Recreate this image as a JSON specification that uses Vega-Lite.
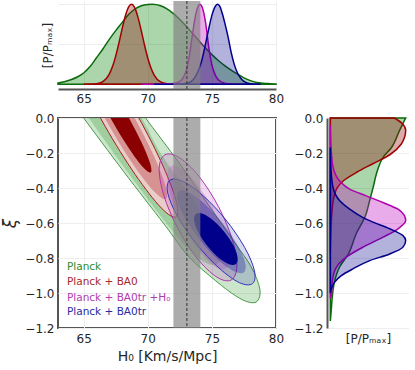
{
"$schema": "https://vega.github.io/schema/vega-lite/v6.json",
"padding": {"left": 0, "top": 0, "right": 0, "bottom": 0},
"config": {
  "view": {"stroke": null},
  "font": "DejaVu Sans",
  "axis": {"labelFont": "DejaVu Sans", "titleFont": "DejaVu Sans", "labelColor": "#262626", "titleColor": "#262626", "gridColor": "#eeeeee", "ticks": false, "labelFontSize": 12, "titleFontWeight": "normal", "labelOverlap": false, "minExtent": 0}
},
"datasets": {
  "g2": [{"i":1,"h":63.85,"xi":0.116},{"i":2,"h":65.0,"xi":0},{"i":3,"h":68.13,"xi":-0.307},{"i":4,"h":71.26,"xi":-0.605},{"i":5,"h":73.22,"xi":-0.794},{"i":6,"h":75.31,"xi":-0.931},{"i":7,"h":76.87,"xi":-1.017},{"i":8,"h":77.91,"xi":-1.053},{"i":9,"h":78.56,"xi":-1.045},{"i":10,"h":78.74,"xi":-0.977},{"i":11,"h":78.07,"xi":-0.851},{"i":12,"h":76.74,"xi":-0.708},{"i":13,"h":74.78,"xi":-0.502},{"i":14,"h":72.44,"xi":-0.256},{"i":15,"h":69.83,"xi":0},{"i":16,"h":68.73,"xi":0.116}],
  "g1": [{"i":1,"h":64.22,"xi":0.116},{"i":2,"h":65.39,"xi":0},{"i":3,"h":68.52,"xi":-0.319},{"i":4,"h":71.65,"xi":-0.622},{"i":5,"h":73.61,"xi":-0.782},{"i":6,"h":75.02,"xi":-0.839},{"i":7,"h":75.72,"xi":-0.794},{"i":8,"h":75.18,"xi":-0.662},{"i":9,"h":73.22,"xi":-0.433},{"i":10,"h":71.03,"xi":-0.204},{"i":11,"h":69.54,"xi":0},{"i":12,"h":68.52,"xi":0.116}],
  "r2": [{"i":0,"h":72.20,"xi":-0.565},{"i":1,"h":71.04,"xi":-0.513},{"i":2,"h":69.02,"xi":-0.323},{"i":3,"h":66.67,"xi":-0.047},{"i":4,"h":64.63,"xi":0.242},{"i":5,"h":63.44,"xi":0.465},{"i":6,"h":63.42,"xi":0.565},{"i":7,"h":64.58,"xi":0.513},{"i":8,"h":66.60,"xi":0.323},{"i":9,"h":68.95,"xi":0.047},{"i":10,"h":70.99,"xi":-0.242},{"i":11,"h":72.18,"xi":-0.465}],
  "rm": [{"i":0,"h":71.40,"xi":-0.463},{"i":1,"h":70.48,"xi":-0.419},{"i":2,"h":68.84,"xi":-0.263},{"i":3,"h":66.93,"xi":-0.037},{"i":4,"h":65.25,"xi":0.200},{"i":5,"h":64.26,"xi":0.383},{"i":6,"h":64.22,"xi":0.463},{"i":7,"h":65.14,"xi":0.419},{"i":8,"h":66.78,"xi":0.263},{"i":9,"h":68.70,"xi":0.037},{"i":10,"h":70.37,"xi":-0.200},{"i":11,"h":71.36,"xi":-0.383}],
  "r1": [{"i":0,"h":70.23,"xi":-0.311},{"i":1,"h":69.63,"xi":-0.281},{"i":2,"h":68.55,"xi":-0.175},{"i":3,"h":67.27,"xi":-0.023},{"i":4,"h":66.13,"xi":0.136},{"i":5,"h":65.44,"xi":0.258},{"i":6,"h":65.39,"xi":0.311},{"i":7,"h":65.99,"xi":0.281},{"i":8,"h":67.07,"xi":0.175},{"i":9,"h":68.36,"xi":0.023},{"i":10,"h":69.49,"xi":-0.136},{"i":11,"h":70.18,"xi":-0.258}],
  "p2": [{"i":0,"h":76.50,"xi":-0.926},{"i":1,"h":75.36,"xi":-0.908},{"i":2,"h":73.83,"xi":-0.800},{"i":3,"h":72.33,"xi":-0.629},{"i":4,"h":71.25,"xi":-0.442},{"i":5,"h":70.89,"xi":-0.288},{"i":6,"h":71.34,"xi":-0.210},{"i":7,"h":72.48,"xi":-0.227},{"i":8,"h":74.01,"xi":-0.335},{"i":9,"h":75.51,"xi":-0.506},{"i":10,"h":76.59,"xi":-0.694},{"i":11,"h":76.95,"xi":-0.847}],
  "p1": [{"i":0,"h":76.04,"xi":-0.861},{"i":1,"h":75.16,"xi":-0.845},{"i":2,"h":73.96,"xi":-0.754},{"i":3,"h":72.74,"xi":-0.613},{"i":4,"h":71.84,"xi":-0.460},{"i":5,"h":71.50,"xi":-0.336},{"i":6,"h":71.81,"xi":-0.274},{"i":7,"h":72.68,"xi":-0.291},{"i":8,"h":73.88,"xi":-0.382},{"i":9,"h":75.10,"xi":-0.522},{"i":10,"h":76.00,"xi":-0.675},{"i":11,"h":76.34,"xi":-0.800}],
  "b2": [{"i":0,"h":78.17,"xi":-0.946},{"i":1,"h":77.15,"xi":-0.941},{"i":2,"h":75.55,"xi":-0.857},{"i":3,"h":73.78,"xi":-0.719},{"i":4,"h":72.32,"xi":-0.562},{"i":5,"h":71.56,"xi":-0.430},{"i":6,"h":71.71,"xi":-0.356},{"i":7,"h":72.73,"xi":-0.362},{"i":8,"h":74.33,"xi":-0.445},{"i":9,"h":76.10,"xi":-0.583},{"i":10,"h":77.56,"xi":-0.740},{"i":11,"h":78.32,"xi":-0.873}],
  "bm": [{"i":0,"h":77.50,"xi":-0.882},{"i":1,"h":76.73,"xi":-0.876},{"i":2,"h":75.49,"xi":-0.810},{"i":3,"h":74.11,"xi":-0.700},{"i":4,"h":72.95,"xi":-0.577},{"i":5,"h":72.33,"xi":-0.474},{"i":6,"h":72.42,"xi":-0.418},{"i":7,"h":73.19,"xi":-0.424},{"i":8,"h":74.43,"xi":-0.490},{"i":9,"h":75.82,"xi":-0.600},{"i":10,"h":76.97,"xi":-0.723},{"i":11,"h":77.59,"xi":-0.826}],
  "b1": [{"i":0,"h":76.88,"xi":-0.834},{"i":1,"h":76.33,"xi":-0.835},{"i":2,"h":75.51,"xi":-0.797},{"i":3,"h":74.64,"xi":-0.730},{"i":4,"h":73.95,"xi":-0.654},{"i":5,"h":73.62,"xi":-0.587},{"i":6,"h":73.75,"xi":-0.548},{"i":7,"h":74.29,"xi":-0.547},{"i":8,"h":75.11,"xi":-0.586},{"i":9,"h":75.98,"xi":-0.652},{"i":10,"h":76.68,"xi":-0.729},{"i":11,"h":77.00,"xi":-0.795}],
  "tg": [{"h":63,"p":0.015},{"h":63.5,"p":0.03},{"h":64,"p":0.055},{"h":64.5,"p":0.09},{"h":65,"p":0.14},{"h":65.5,"p":0.22},{"h":66,"p":0.33},{"h":66.5,"p":0.44},{"h":67,"p":0.56},{"h":67.5,"p":0.67},{"h":68,"p":0.77},{"h":68.5,"p":0.87},{"h":69,"p":0.94},{"h":69.5,"p":0.98},{"h":70,"p":0.997},{"h":70.35,"p":1},{"h":71,"p":0.981},{"h":71.5,"p":0.941},{"h":72,"p":0.882},{"h":72.5,"p":0.809},{"h":73,"p":0.724},{"h":73.5,"p":0.634},{"h":74,"p":0.542},{"h":74.5,"p":0.453},{"h":75,"p":0.37},{"h":75.5,"p":0.296},{"h":76,"p":0.231},{"h":76.5,"p":0.176},{"h":77,"p":0.125},{"h":77.5,"p":0.08},{"h":78,"p":0.045},{"h":78.5,"p":0.022},{"h":79,"p":0.012},{"h":79.5,"p":0.007},{"h":80,"p":0.004}],
  "tr": [{"h":65,"p":0},{"h":65.5,"p":0.001},{"h":66,"p":0.006},{"h":66.5,"p":0.032},{"h":67,"p":0.126},{"h":67.25,"p":0.22},{"h":67.5,"p":0.351},{"h":67.75,"p":0.514},{"h":68,"p":0.692},{"h":68.25,"p":0.853},{"h":68.5,"p":0.964},{"h":68.73,"p":1},{"h":69,"p":0.951},{"h":69.25,"p":0.829},{"h":69.5,"p":0.663},{"h":69.75,"p":0.487},{"h":70,"p":0.328},{"h":70.25,"p":0.202},{"h":70.5,"p":0.114},{"h":71,"p":0.028},{"h":71.5,"p":0.005},{"h":72,"p":0.001},{"h":72.7,"p":0}],
  "tp": [{"h":69.5,"p":0},{"h":70.5,"p":0},{"h":71.5,"p":0.002},{"h":72,"p":0.008},{"h":72.5,"p":0.035},{"h":72.75,"p":0.08},{"h":73,"p":0.17},{"h":73.25,"p":0.36},{"h":73.5,"p":0.64},{"h":73.75,"p":0.88},{"h":74.06,"p":1},{"h":74.25,"p":0.96},{"h":74.5,"p":0.78},{"h":74.75,"p":0.47},{"h":75,"p":0.24},{"h":75.25,"p":0.12},{"h":75.5,"p":0.055},{"h":76,"p":0.012},{"h":76.5,"p":0.002},{"h":77,"p":0},{"h":77.6,"p":0}],
  "tb": [{"h":70.5,"p":0},{"h":72,"p":0},{"h":72.5,"p":0.002},{"h":73,"p":0.01},{"h":73.25,"p":0.022},{"h":73.5,"p":0.05},{"h":73.75,"p":0.105},{"h":74,"p":0.19},{"h":74.25,"p":0.32},{"h":74.5,"p":0.5},{"h":74.75,"p":0.69},{"h":75,"p":0.86},{"h":75.25,"p":0.97},{"h":75.43,"p":1},{"h":75.6,"p":0.98},{"h":75.8,"p":0.89},{"h":76,"p":0.77},{"h":76.25,"p":0.6},{"h":76.5,"p":0.4},{"h":76.75,"p":0.245},{"h":77,"p":0.14},{"h":77.25,"p":0.075},{"h":77.5,"p":0.035},{"h":78,"p":0.005},{"h":78.8,"p":0}],
  "sg": [{"xi":0,"p":1.0},{"xi":-0.07,"p":0.92},{"xi":-0.17,"p":0.81},{"xi":-0.225,"p":0.7},{"xi":-0.29,"p":0.633},{"xi":-0.4,"p":0.566},{"xi":-0.47,"p":0.523},{"xi":-0.56,"p":0.465},{"xi":-0.66,"p":0.345},{"xi":-0.78,"p":0.235},{"xi":-0.85,"p":0.125},{"xi":-0.93,"p":0.058},{"xi":-1.02,"p":0.027},{"xi":-1.1,"p":0.012},{"xi":-1.16,"p":0}],
  "sr": [{"xi":0,"p":0.85},{"xi":-0.03,"p":0.95},{"xi":-0.07,"p":1.0},{"xi":-0.11,"p":0.985},{"xi":-0.15,"p":0.94},{"xi":-0.21,"p":0.79},{"xi":-0.26,"p":0.57},{"xi":-0.31,"p":0.35},{"xi":-0.36,"p":0.17},{"xi":-0.4,"p":0.09},{"xi":-0.435,"p":0.058},{"xi":-0.48,"p":0.035},{"xi":-0.53,"p":0.023},{"xi":-0.6,"p":0.012},{"xi":-0.7,"p":0.004},{"xi":-0.77,"p":0}],
  "sp": [{"xi":-0.04,"p":0},{"xi":-0.1,"p":0.003},{"xi":-0.2,"p":0.015},{"xi":-0.28,"p":0.036},{"xi":-0.36,"p":0.125},{"xi":-0.406,"p":0.257},{"xi":-0.445,"p":0.477},{"xi":-0.483,"p":0.699},{"xi":-0.521,"p":0.898},{"xi":-0.555,"p":0.98},{"xi":-0.586,"p":1.0},{"xi":-0.633,"p":0.898},{"xi":-0.681,"p":0.699},{"xi":-0.738,"p":0.434},{"xi":-0.795,"p":0.212},{"xi":-0.853,"p":0.08},{"xi":-0.929,"p":0.027},{"xi":-1.015,"p":0.013},{"xi":-1.03,"p":0}],
  "sb": [{"xi":-0.168,"p":0},{"xi":-0.3,"p":0.01},{"xi":-0.397,"p":0.036},{"xi":-0.473,"p":0.125},{"xi":-0.521,"p":0.257},{"xi":-0.569,"p":0.434},{"xi":-0.595,"p":0.566},{"xi":-0.633,"p":0.788},{"xi":-0.672,"p":0.964},{"xi":-0.7,"p":1.0},{"xi":-0.738,"p":0.964},{"xi":-0.777,"p":0.788},{"xi":-0.815,"p":0.523},{"xi":-0.862,"p":0.301},{"xi":-0.901,"p":0.146},{"xi":-0.938,"p":0.058},{"xi":-0.977,"p":0.013},{"xi":-1.0,"p":0}],
  "band": [{"h":72.0,"h2":74.1}],
  "riess": [{"h":73.05}],
  "leg": [{"i":1,"label":"Planck","h":63.7,"xi":-0.853},{"i":2,"label":"Planck + BA0","h":63.7,"xi":-0.938},{"i":3,"label":"Planck + BA0tr +H₀","h":63.7,"xi":-1.028},{"i":4,"label":"Planck + BA0tr","h":63.7,"xi":-1.11}]
},
"columns": 2,
"align": "each",
"spacing": {"row": 7, "column": 8},
"concat": [
  {
    "width": 218, "height": 88,
    "layer": [
      {
        "encoding": {
          "x": {"field": "h", "type": "quantitative", "scale": {"domain": [63, 80], "nice": false, "zero": false}, "axis": {"title": null, "values": [65, 70, 75, 80], "labelFlush": false, "domainColor": "#555555", "domainWidth": 2, "grid": true, "labelPadding": 4}},
          "y": {"field": "p", "type": "quantitative", "scale": {"domain": [-0.06, 1.04], "nice": false, "zero": false}, "axis": {"title": "[P/Pₘₐₓ]", "labels": false, "domain": false, "values": [0, 0.5, 1], "grid": true, "titlePadding": 4, "titleFontSize": 12}}
        },
        "layer": [
          {"data": {"name": "tg"}, "mark": {"type": "area", "interpolate": "monotone", "fill": "#008000", "fillOpacity": 0.33, "stroke": "#0b6b0b", "strokeWidth": 1.5}},
          {"data": {"name": "tr"}, "mark": {"type": "area", "interpolate": "monotone", "fill": "#8b0000", "fillOpacity": 0.33, "stroke": "#a00000", "strokeWidth": 1.5}},
          {"data": {"name": "tp"}, "mark": {"type": "area", "interpolate": "monotone", "fill": "#bf00bf", "fillOpacity": 0.33, "stroke": "#b000b0", "strokeWidth": 1.5}},
          {"data": {"name": "tb"}, "mark": {"type": "area", "interpolate": "monotone", "fill": "#00008b", "fillOpacity": 0.3, "stroke": "#00008b", "strokeWidth": 1.5}}
        ]
      },
      {"data": {"name": "band"}, "mark": {"type": "rect", "color": "#808080", "opacity": 0.65}, "encoding": {"x": {"field": "h", "type": "quantitative"}, "x2": {"field": "h2"}}},
      {"data": {"name": "riess"}, "mark": {"type": "rule", "color": "#333333", "strokeDash": [3, 2], "strokeWidth": 1}, "encoding": {"x": {"field": "h", "type": "quantitative"}}}
    ]
  },
  {"width": 82, "height": 88, "data": {"values": []}, "mark": {"type": "point", "opacity": 0}, "encoding": {}},
  {
    "width": 218, "height": 210,
    "view": {"stroke": "#555555", "strokeWidth": 2},
    "layer": [
      {
        "encoding": {
          "x": {"field": "h", "type": "quantitative", "scale": {"domain": [63, 80], "nice": false, "zero": false}, "axis": {"title": "H₀ [Km/s/Mpc]", "values": [65, 70, 75, 80], "labelFlush": false, "labelOverlap": false, "domain": false, "grid": true, "labelPadding": 5, "titlePadding": 5, "titleFontSize": 14}},
          "y": {"field": "xi", "type": "quantitative", "scale": {"domain": [-1.2, 0], "nice": false, "zero": false}, "axis": {"title": "ξ", "values": [0, -0.2, -0.4, -0.6, -0.8, -1.0, -1.2], "format": ".1f", "labelOverlap": false, "labelBound": false, "domain": false, "grid": true, "labelPadding": 4, "titlePadding": 5, "titleFontSize": 17, "titleFontStyle": "italic"}},
          "order": {"field": "i", "type": "quantitative"}
        },
        "layer": [
          {"data": {"name": "g2"}, "mark": {"type": "line", "interpolate": "cardinal-closed", "clip": true, "fill": "#008000", "fillOpacity": 0.2, "stroke": "#4a9a4a", "strokeWidth": 1}},
          {"data": {"name": "g1"}, "mark": {"type": "line", "interpolate": "cardinal-closed", "clip": true, "fill": "#008000", "fillOpacity": 0.22, "strokeWidth": 0}},
          {"data": {"name": "r2"}, "mark": {"type": "line", "interpolate": "cardinal-closed", "clip": true, "fill": "#f2cccc", "fillOpacity": 0.9, "stroke": "#a02020", "strokeWidth": 1}},
          {"data": {"name": "rm"}, "mark": {"type": "line", "interpolate": "cardinal-closed", "clip": true, "fill": "#d68f8f", "fillOpacity": 0.95, "strokeWidth": 0}},
          {"data": {"name": "r1"}, "mark": {"type": "line", "interpolate": "cardinal-closed", "clip": true, "fill": "#8b0000", "fillOpacity": 1, "strokeWidth": 0}},
          {"data": {"name": "p2"}, "mark": {"type": "line", "interpolate": "cardinal-closed", "clip": true, "fill": "#c040c0", "fillOpacity": 0.2, "stroke": "#b030b0", "strokeWidth": 1}},
          {"data": {"name": "p1"}, "mark": {"type": "line", "interpolate": "cardinal-closed", "clip": true, "fill": "#c040c0", "fillOpacity": 0.25, "strokeWidth": 0}},
          {"data": {"name": "b2"}, "mark": {"type": "line", "interpolate": "cardinal-closed", "clip": true, "fill": "#2020a0", "fillOpacity": 0.18, "stroke": "#3030b8", "strokeWidth": 1}},
          {"data": {"name": "bm"}, "mark": {"type": "line", "interpolate": "cardinal-closed", "clip": true, "fill": "#2020a0", "fillOpacity": 0.35, "strokeWidth": 0}},
          {"data": {"name": "b1"}, "mark": {"type": "line", "interpolate": "cardinal-closed", "clip": true, "fill": "#00008b", "fillOpacity": 1, "strokeWidth": 0}},
          {"data": {"name": "leg"}, "mark": {"type": "text", "align": "left", "baseline": "middle", "fontSize": 10.5, "font": "DejaVu Sans"}, "encoding": {"text": {"field": "label"}, "color": {"field": "label", "type": "nominal", "scale": {"domain": ["Planck", "Planck + BA0", "Planck + BA0tr +H₀", "Planck + BA0tr"], "range": ["#2e8b2e", "#a52a2a", "#b03cb0", "#2a2aa0"]}, "legend": null}}}
        ]
      },
      {"data": {"name": "band"}, "mark": {"type": "rect", "color": "#808080", "opacity": 0.65}, "encoding": {"x": {"field": "h", "type": "quantitative"}, "x2": {"field": "h2"}}},
      {"data": {"name": "riess"}, "mark": {"type": "rule", "color": "#333333", "strokeDash": [3, 2], "strokeWidth": 1}, "encoding": {"x": {"field": "h", "type": "quantitative"}}}
    ]
  },
  {
    "width": 82, "height": 210,
    "encoding": {
      "x": {"field": "p", "type": "quantitative", "scale": {"domain": [-0.044, 1.044], "nice": false, "zero": false}, "axis": {"title": "[P/Pₘₐₓ]", "labels": false, "domain": false, "grid": false, "titlePadding": 5, "titleFontSize": 12}},
      "y": {"field": "xi", "type": "quantitative", "scale": {"domain": [-1.2, 0], "nice": false, "zero": false}, "axis": {"title": null, "values": [0, -0.2, -0.4, -0.6, -0.8, -1.0, -1.2], "format": ".1f", "domainColor": "#555555", "domainWidth": 2, "grid": true, "labelPadding": 4}}
    },
    "layer": [
      {"data": {"name": "sg"}, "mark": {"type": "area", "orient": "horizontal", "interpolate": "monotone", "fill": "#008000", "fillOpacity": 0.33, "stroke": "#0b6b0b", "strokeWidth": 1.5}},
      {"data": {"name": "sr"}, "mark": {"type": "area", "orient": "horizontal", "interpolate": "monotone", "fill": "#8b0000", "fillOpacity": 0.33, "stroke": "#a00000", "strokeWidth": 1.5}},
      {"data": {"name": "sp"}, "mark": {"type": "area", "orient": "horizontal", "interpolate": "monotone", "fill": "#bf00bf", "fillOpacity": 0.33, "stroke": "#b000b0", "strokeWidth": 1.5}},
      {"data": {"name": "sb"}, "mark": {"type": "area", "orient": "horizontal", "interpolate": "monotone", "fill": "#00008b", "fillOpacity": 0.3, "stroke": "#00008b", "strokeWidth": 1.5}}
    ]
  }
]
}
